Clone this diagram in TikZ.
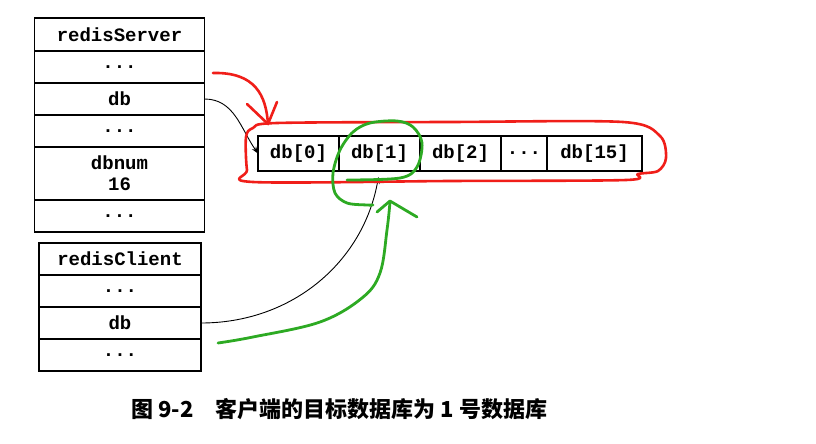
\documentclass[tikz,border=0pt]{standalone}
\usepackage{fontspec}
\setmonofont{Liberation Mono}
\newfontfamily\cjk{Noto Sans CJK SC}
\usetikzlibrary{arrows.meta,positioning}
\definecolor{penred}{RGB}{240,30,25}
\definecolor{pengreen}{RGB}{45,170,35}

\begin{document}
\begin{tikzpicture}[x=1pt, y=-1pt,
  every node/.style={align=center, font=\ttfamily\bfseries\fontsize{19}{21}\selectfont},
  field/.style={draw, line width=1.8pt, inner sep=0pt, outer sep=0pt,
                minimum width=170pt, minimum height=32pt},
  cfield/.style={field, minimum width=162pt},
  cell/.style={draw, line width=1.8pt, inner sep=0pt, outer sep=0pt,
               minimum height=35pt},
  arr/.style={-{Stealth[length=7pt, width=5pt]}, line width=0.9pt},
  redpen/.style={penred, line width=2.6pt, line cap=round, line join=round},
  greenpen/.style={pengreen, line width=2.8pt, line cap=round, line join=round}
]
  \useasboundingbox (0,0) rectangle (816,444);

  % redisServer
  \node[field, minimum height=33pt] (srvname) at (119.5,34.5) {redisServer};
  \node[field, below=0pt of srvname] (srv1) {...};
  \node[field, below=0pt of srv1] (srvdb) {db};
  \node[field, below=0pt of srvdb] (srv2) {...};
  \node[field, below=0pt of srv2, minimum height=53pt] (srvnum) {dbnum\\16};
  \node[field, below=0pt of srvnum] (srv3) {...};

  % redisClient
  \node[cfield] (cliname) at (120,259) {redisClient};
  \node[cfield, below=0pt of cliname] (cli1) {...};
  \node[cfield, below=0pt of cli1] (clidb) {db};
  \node[cfield, below=0pt of clidb] (cli2) {...};

  % db array
  \node[cell, minimum width=81pt] (db0) at (298.5,153.5) {db[0]};
  \node[cell, minimum width=81pt, right=0pt of db0] (db1) {db[1]};
  \node[cell, minimum width=81pt, right=0pt of db1] (db2) {db[2]};
  \node[cell, minimum width=46pt, right=0pt of db2] (dbdots) {...};
  \node[cell, minimum width=95pt, right=0pt of dbdots] (db15) {db[15]};

  \draw[arr] (srvdb.east) to[out=0, in=125] (db0.west);
  \draw[arr, shorten >=6pt] (clidb.east) to[out=0, in=-100] (db1.south);

  % pen marks
  \draw[redpen] plot[smooth cycle, tension=0.5] coordinates {
    (277,123) (450,122) (623,122) (660,136) (666,158) (658,171) (638,174)
    (626,180) (450,181) (253,182) (247,170) (246,137) (253,128)};
  \draw[redpen] (213,73) .. controls (255,72) and (266,95) .. (268,124);
  \draw[redpen] (247,104) -- (268,124) -- (277,102);

  \draw[greenpen] plot[smooth, tension=0.55] coordinates {
    (347,180) (400,178) (417,167) (422,143) (413,127) (397,121) (370,123)
    (353,132) (340,150) (333,173) (335,193) (347,203) (367,205) (373,205)};
  \draw[greenpen] plot[smooth, tension=0.6] coordinates {
    (218,343) (253,337) (320,322) (362,298) (380,273) (387,230) (390,202)};
  \draw[greenpen] (377,212) -- (390,201) -- (417,217);

  \node[anchor=west, font=\cjk\bfseries\fontsize{22}{26}\selectfont] (caption)
    at (128,409) {图 9-2\quad 客户端的目标数据库为 1 号数据库};
\end{tikzpicture}
\end{document}
